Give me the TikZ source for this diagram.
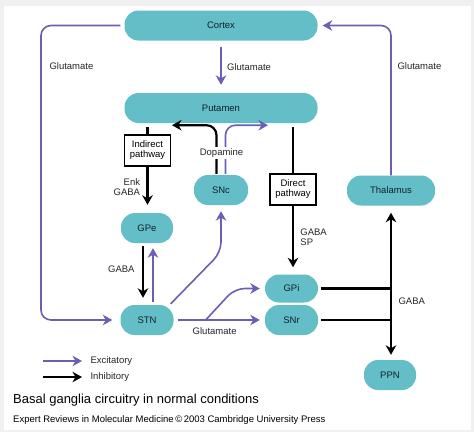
\documentclass[tikz,border=0pt]{standalone}
\usepackage{fontspec}
\setmainfont{Liberation Sans}
\usetikzlibrary{arrows.meta}

\definecolor{nucleus}{HTML}{63BEC7}
\definecolor{excite}{HTML}{6B5FB5}
\definecolor{nuctext}{HTML}{14222B}

\begin{document}
\begin{tikzpicture}[
    x=1pt, y=-1pt,
    >={Stealth[length=9.5pt,width=10.5pt,inset=3pt]},
    every node/.style={font=\fontsize{9.5}{10}\selectfont},
    region/.style={fill=nucleus, rounded corners=14pt, minimum height=30pt,
        text=nuctext, inner sep=0pt},
    pathbox/.style={draw, line width=1.1pt, fill=white, align=center,
        minimum width=46pt, minimum height=31pt, inner sep=1pt},
    exc/.style={->, excite, line width=1.6pt, rounded corners=10pt},
    inh/.style={->, black, line width=2.2pt, rounded corners=10pt},
    blk/.style={black, line width=2.2pt},
    lbl/.style={text=black!85}
]
\useasboundingbox (0,0) rectangle (474,432);
\fill[gray!12] (0,0) rectangle (474,432);
\fill[white] (4,6) rectangle (471,430);

% Nuclei
\node[region, minimum width=193pt] (cortex)   at (221,25.5) {Cortex};
\node[region, minimum width=193pt] (putamen)  at (221,108)  {Putamen};
\node[region, minimum width=54pt]  (snc)      at (221,190)  {SNc};
\node[region, minimum width=88pt]  (thalamus) at (391,190.5) {Thalamus};
\node[region, minimum width=52pt]  (gpe)      at (147,228)  {GPe};
\node[region, minimum width=53pt]  (stn)      at (147,320)  {STN};
\node[region, minimum width=53pt, minimum height=28pt] (gpi) at (291.5,288.5) {GPi};
\node[region, minimum width=53pt]  (snr)      at (291.5,320) {SNr};
\node[region, minimum width=52pt]  (ppn)      at (390,375)  {PPN};

% Pathway boxes
\node[pathbox] (indirect) at (147.5,150.5) {Indirect\\pathway};
\node[pathbox] (direct)   at (293,189.5)   {Direct\\pathway};

% Cortex to Putamen
\draw[exc, shorten <=6pt, shorten >=8pt] (cortex.south) -- (putamen.north)
    node[lbl, midway, right=2pt] {Glutamate};

% Cortex to STN
\draw[exc] ([xshift=-4pt]cortex.west) -- (41,25.5) -- (41,320) -- ([xshift=-8pt]stn.west);
\node[lbl, anchor=west] at (46,66) {Glutamate};

% Thalamus to Cortex
\draw[exc] (thalamus.north) -- (thalamus.north |- cortex.east) -- ([xshift=5pt]cortex.east);
\node[lbl, anchor=west] at (394,66) {Glutamate};

% Indirect pathway
\draw[blk] (indirect.north) -- ([yshift=-4pt]indirect.north |- putamen.south);
\draw[inh, shorten >=8pt] (indirect.south) -- (indirect.south |- gpe.north)
    node[lbl, midway, left=3pt, align=right, yshift=3pt] {Enk\\GABA};

% GPe and STN
\draw[inh] ([xshift=-4pt,yshift=-3pt]gpe.south) -- ([xshift=-4pt,yshift=7pt]stn.north)
    node[lbl, midway, left=4pt, yshift=3pt] {GABA};
\draw[exc] ([xshift=6pt,yshift=3pt]stn.north) -- ([xshift=6pt,yshift=-5pt]gpe.south);

% Dopamine
\draw[inh] ([xshift=-4.5pt,yshift=1pt]snc.north) -- ([xshift=-4.5pt,yshift=-2pt]snc.north |- putamen.south)
    -- ([xshift=-49pt,yshift=-2pt]snc.north |- putamen.south);
\draw[exc] ([xshift=4.5pt,yshift=1pt]snc.north) -- ([xshift=4.5pt,yshift=-2pt]snc.north |- putamen.south)
    -- ([xshift=47pt,yshift=-2pt]snc.north |- putamen.south);
\node[lbl, fill=white, inner sep=1.5pt] (dopa) at (221.5,153) {Dopamine};

% Direct pathway
\draw[blk] (direct.north) -- ([yshift=-4pt]direct.north |- putamen.south);
\draw[inh, shorten >=7pt] (direct.south) -- (direct.south |- gpi.north)
    node[lbl, midway, right=3pt, align=left, yshift=3pt] {GABA\\SP};

% STN to SNc
\draw[exc] ([xshift=-3pt,yshift=1pt]stn.north east) -- ([yshift=-47pt]snc.south)
    -- ([yshift=-6pt]snc.south);

% STN to GPi and SNr
\draw[exc] ([xshift=4pt]stn.east) -- ([xshift=-5pt]snr.west)
    node[lbl, pos=0.45, below=3pt] {Glutamate};
\draw[exc] ([xshift=32pt]stn.east) -- ([xshift=-30pt]gpi.west) -- ([xshift=-5pt]gpi.west);

% GPi and SNr output
\draw[blk] ([xshift=3pt]gpi.east) -- (gpi.east -| thalamus.south);
\draw[blk] ([xshift=3pt]snr.east) -- (snr.east -| thalamus.south);
\draw[inh, <->] ([yshift=-7pt]thalamus.south) -- ([yshift=5pt]thalamus.south |- ppn.north);
\node[lbl, anchor=west] at (395,301) {GABA};

% Legend
\node[lbl, anchor=west] (exclbl) at (87,361) {Excitatory};
\node[lbl, anchor=west] (inhlbl) at (87,377) {Inhibitory};
\draw[exc] ([xshift=-44pt]exclbl.west) -- ([xshift=-5pt]exclbl.west);
\draw[inh] ([xshift=-44pt]inhlbl.west) -- ([xshift=-5pt]inhlbl.west);

% Caption
\node[anchor=west, inner sep=0pt, font=\fontsize{13}{15}\selectfont] (title) at (13,400)
    {Basal ganglia circuitry in normal conditions};
\node[anchor=west, inner sep=0pt] (credit) at (13,420)
    {Expert Reviews in Molecular Medicine\,©\,2003 Cambridge University Press};
\end{tikzpicture}
\end{document}
